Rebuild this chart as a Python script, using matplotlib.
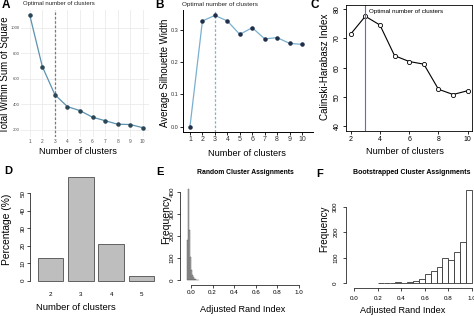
import numpy as np
import matplotlib
matplotlib.use("Agg")
import matplotlib.pyplot as plt

plt.rcParams['font.family'] = ['Liberation Sans', 'DejaVu Sans']

# --- data ---
k_all = [1, 2, 3, 4, 5, 6, 7, 8, 9, 10]
wss = [1100, 697, 477, 383, 352, 300, 273, 245, 243, 218]
silhouette = [0.0, 0.329, 0.346, 0.329, 0.287, 0.308, 0.273, 0.277, 0.259, 0.256]

k_ch = [2, 3, 4, 5, 6, 7, 8, 9, 10]
calinski = [71.5, 77.6, 74.6, 64.1, 62.1, 61.2, 52.6, 50.8, 52.1]

k_pct = ["2", "3", "4", "5"]
pct = [12.8, 58.9, 20.8, 2.9]

rand_edges = [-0.04, -0.03, -0.02, -0.01, 0.0, 0.01, 0.02, 0.03,
              0.04, 0.05, 0.06, 0.07]
rand_counts = [180, 412, 225, 105, 45, 22, 12, 6, 4, 2, 1]

boot_edges = [0.20, 0.25, 0.30, 0.35, 0.40, 0.45, 0.50, 0.55, 0.60,
              0.65, 0.70, 0.75, 0.80, 0.85, 0.90, 0.95, 1.00]
boot_counts = [1, 1, 2, 3, 2, 4, 7, 15, 35, 48, 63, 98, 91, 121, 163, 366]

W, H = 474, 316
fig = plt.figure(figsize=(W / 100, H / 100), dpi=100)


def px_axes(x0, y0, x1, y1):
    # axes box given in pixels, origin top-left
    return fig.add_axes([x0 / W, 1 - y1 / H, (x1 - x0) / W, (y1 - y0) / H])


def px_text(x, y, s, **kw):
    kw.setdefault("ha", "center")
    kw.setdefault("va", "center")
    fig.text(x / W, 1 - y / H, s, **kw)


# --- A: elbow (ggplot minimal) ---
ax = px_axes(21, 10, 149, 137)
ax.plot(k_all, wss, color="#5B93B0", lw=0.9, zorder=3)
ax.scatter(k_all, wss, s=5, color="#2B4656", zorder=4)
ax.axvline(3, color="#7A7A7A", ls=(0, (2, 1.5)), lw=0.9)
ax.set_xlim(0.3, 10.5)
ax.set_ylim(145, 1141)
ax.set_xticks(k_all)
ax.set_yticks([200, 400, 600, 800, 1000])
ax.grid(True, color="#EBEBEB", lw=0.6)
ax.set_axisbelow(True)
for s in ax.spines.values():
    s.set_visible(False)
ax.tick_params(length=0, labelsize=3.5, labelcolor="#555555", pad=1.5)
ax.tick_params(axis="y", labelsize=3.1, pad=1)
px_text(23, 4, "Optimal number of clusters", ha="left", fontsize=4.3, color="#222222")
px_text(78, 152, "Number of clusters", fontsize=6.7)
px_text(5, 75, "Total Within Sum of Square", rotation=90, fontsize=6.9)
px_text(6, 5.5, "A", fontsize=8.5, fontweight="bold")

# --- B: silhouette (ggplot classic) ---
ax = px_axes(183, 10, 313, 132)
ax.plot(k_all, silhouette, color="#7AB0CF", lw=0.9, zorder=3)
ax.scatter(k_all, silhouette, s=5, color="#1F2F4A", zorder=4)
ax.axvline(3, color="#7FB2D0", ls=(0, (2, 1.5)), lw=0.9)
ax.set_xlim(0.44, 10.88)
ax.set_ylim(-0.017, 0.363)
ax.set_xticks(k_all)
ax.set_yticks([0.0, 0.1, 0.2, 0.3])
ax.set_yticklabels(["0.0", "0.1", "0.2", "0.3"])
ax.spines[["top", "right"]].set_visible(False)
for s in ("left", "bottom"):
    ax.spines[s].set_linewidth(0.7)
ax.tick_params(length=2, width=0.6, labelsize=5, labelcolor="#333333", pad=1)
ax.tick_params(axis="y", labelsize=4)
px_text(182, 4.5, "Optimal number of clusters", ha="left", fontsize=4.6, color="#222222")
px_text(247, 153, "Number of clusters", fontsize=6.7)
px_text(165, 73, "Average Silhouette Width", rotation=90, fontsize=6.9)
px_text(159, 5, "B", fontsize=8.5, fontweight="bold")

# --- C: Calinski-Harabasz (base R) ---
ax = px_axes(346, 4.6, 472.4, 130.7)
ax.plot(k_ch, calinski, color="black", lw=0.8, marker="o", ms=3,
        mfc="white", mec="black", mew=0.6)
ax.axvline(3, color="#6B6BA8", lw=0.8)
ax.set_xlim(1.68, 10.32)
ax.set_ylim(38.4, 81.6)
ax.set_xticks([2, 4, 6, 8, 10])
ax.set_yticks([40, 50, 60, 70, 80])
for s in ax.spines.values():
    s.set_linewidth(0.6)
ax.tick_params(length=2.5, width=0.6, labelsize=5, pad=1.5)
plt.setp(ax.get_yticklabels(), rotation=90, va="center")
ax.text(3.25, 79.3, "Optimal number of clusters", fontsize=4.5, va="center")
px_text(405, 151, "Number of clusters", fontsize=6.7)
px_text(325, 67, "Calinski-Harabasz Index", rotation=90, fontsize=7.1)
px_text(315, 4.5, "C", fontsize=8.5, fontweight="bold")

# --- D: percentage bar chart (base R barplot) ---
ax = px_axes(36, 172, 157, 282)
xpos = np.arange(len(k_pct))
ax.bar(xpos, pct, width=0.84, color="#BEBEBE", edgecolor="#4D4D4D", lw=0.6)
ax.set_xlim(-0.48, 3.51)
ax.set_ylim(-0.8, 62)
ax.set_xticks(xpos)
ax.set_xticklabels(k_pct)
ax.set_yticks([0, 10, 20, 30, 40, 50])
ax.spines[["top", "right", "bottom"]].set_visible(False)
ax.spines["left"].set_position(("outward", 4))
ax.spines["left"].set_bounds(0, 50)
ax.spines["left"].set_linewidth(0.5)
ax.tick_params(axis="x", length=0, labelsize=4.5, pad=7)
ax.tick_params(axis="y", length=2, width=0.5, labelsize=4.5, pad=1.5)
plt.setp(ax.get_yticklabels(), rotation=90, va="center")
px_text(76, 308, "Number of clusters", fontsize=6.8)
px_text(7, 229, "Percentage (%)", rotation=90, fontsize=7.4)
px_text(8.5, 171.5, "D", fontsize=8, fontweight="bold")

# --- E: random assignment histogram ---
ax = px_axes(186, 184, 304, 282)
ax.hist(rand_edges[:-1], bins=rand_edges, weights=rand_counts,
        color="#BEBEBE", edgecolor="#4D4D4D", lw=0.3)
ax.set_xlim(-0.046, 1.046)
ax.set_ylim(-9, 436)
ax.set_xticks([0.0, 0.2, 0.4, 0.6, 0.8, 1.0])
ax.set_yticks([0, 100, 200, 300, 400])
ax.spines[["top", "right"]].set_visible(False)
ax.spines["left"].set_position(("outward", 4))
ax.spines["left"].set_bounds(0, 400)
ax.spines["bottom"].set_position(("outward", 2))
ax.spines["bottom"].set_bounds(0, 1)
for s in ("left", "bottom"):
    ax.spines[s].set_linewidth(0.5)
ax.tick_params(length=2, width=0.5, labelsize=4.5, pad=2)
plt.setp(ax.get_yticklabels(), rotation=90, va="center")
px_text(245.5, 172, "Random Cluster Assignments", fontsize=4.9, fontweight="bold")
px_text(242.5, 310, "Adjusted Rand Index", fontsize=6.6)
px_text(166, 219, "Frequency", rotation=90, fontsize=7.5)
px_text(159.5, 172, "E", fontsize=8, fontweight="bold")

# --- F: bootstrapped histogram ---
ax = px_axes(350, 185, 476, 284)
ax.hist(boot_edges[:-1], bins=boot_edges, weights=boot_counts,
        color="white", edgecolor="#333333", lw=0.6)
ax.set_xlim(-0.037, 1.036)
ax.set_ylim(-3, 385)
ax.set_xticks([0.0, 0.2, 0.4, 0.6, 0.8, 1.0])
ax.set_yticks([0, 100, 200, 300])
ax.spines[["top", "right"]].set_visible(False)
ax.spines["left"].set_position(("outward", 3))
ax.spines["left"].set_bounds(0, 300)
ax.spines["bottom"].set_position(("outward", 3))
ax.spines["bottom"].set_bounds(0, 1)
for s in ("left", "bottom"):
    ax.spines[s].set_linewidth(0.5)
ax.tick_params(length=2, width=0.5, labelsize=4.5, pad=3.5)
plt.setp(ax.get_yticklabels(), rotation=90, va="center")
px_text(412, 173, "Bootstrapped Cluster Assignments", fontsize=5.0, fontweight="bold")
px_text(403, 310.5, "Adjusted Rand Index", fontsize=6.6)
px_text(324, 229, "Frequency", rotation=90, fontsize=7.1)
px_text(320, 174.5, "F", fontsize=8, fontweight="bold")

fig.savefig("out.png", dpi=100)
